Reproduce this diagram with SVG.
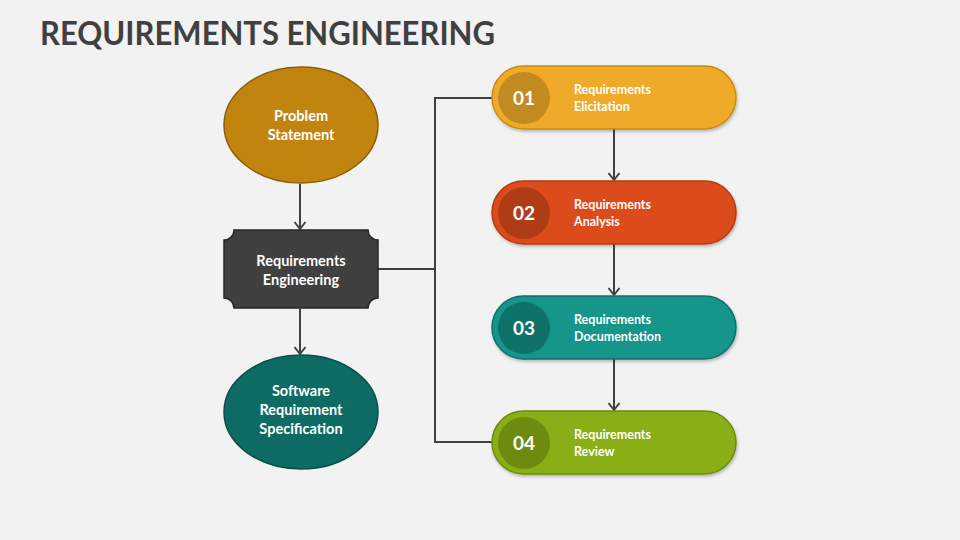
<svg xmlns="http://www.w3.org/2000/svg" width="960" height="540" viewBox="0 0 960 540">
<defs>
<marker id="arr" markerWidth="14" markerHeight="14" refX="11" refY="7" orient="auto" markerUnits="userSpaceOnUse" viewBox="0 0 14 14">
<path d="M4,1.5 L11,7 L4,12.5" fill="none" stroke="#404040" stroke-width="2"/>
</marker>
<filter id="sh" x="-10%" y="-20%" width="120%" height="150%">
<feDropShadow dx="1" dy="2" stdDeviation="1.5" flood-color="#000" flood-opacity="0.25"/>
</filter>
<style>
.t{font-family:Lato,"Open Sans","Liberation Sans",sans-serif;fill:#fff;font-weight:bold;}
.c{font-size:14.5px;text-anchor:middle;}
.n{font-size:19px;text-anchor:middle;}
.l{font-size:12.5px;}
.ln{fill:none;stroke:#404040;stroke-width:2;}
</style>
</defs>
<rect width="960" height="540" fill="#F2F2F2"/>
<text x="40" y="45" font-family="Lato,'Open Sans','Liberation Sans',sans-serif" font-weight="bold" font-size="33" fill="#404040" textLength="455" lengthAdjust="spacingAndGlyphs">REQUIREMENTS ENGINEERING</text>

<g id="connectors">
<line class="ln" x1="300" y1="184" x2="300" y2="229" marker-end="url(#arr)"/>
<line class="ln" x1="300" y1="309" x2="300" y2="354" marker-end="url(#arr)"/>
<polyline class="ln" points="378,269 435,269"/>
<polyline class="ln" points="492,98 435,98 435,442 492,442"/>
<line class="ln" x1="614" y1="129" x2="614" y2="180" marker-end="url(#arr)"/>
<line class="ln" x1="614" y1="244" x2="614" y2="295" marker-end="url(#arr)"/>
<line class="ln" x1="614" y1="359" x2="614" y2="410" marker-end="url(#arr)"/>
</g>

<g id="problem">
<ellipse cx="301" cy="125" rx="77" ry="58" fill="#C0840F" stroke="#8A5E08" stroke-width="1.5"/>
<text class="t c" x="301" y="121">Problem</text>
<text class="t c" x="301" y="140">Statement</text>
</g>

<g id="re">
<path d="M234,230 H368 A10,10 0 0 0 378,240 V298 A10,10 0 0 0 368,308 H234 A10,10 0 0 0 224,298 V240 A10,10 0 0 0 234,230 Z" fill="#404040" stroke="#262626" stroke-width="1.5"/>
<text class="t c" x="301" y="266">Requirements</text>
<text class="t c" x="301" y="285">Engineering</text>
</g>

<g id="srs">
<ellipse cx="301" cy="412" rx="77" ry="57" fill="#0E6B63" stroke="#0A4F49" stroke-width="1.5"/>
<text class="t c" x="301" y="396">Software</text>
<text class="t c" x="301" y="415">Requirement</text>
<text class="t c" x="301" y="434">Specification</text>
</g>

<g id="step1">
<rect x="492" y="66" width="244" height="63" rx="31.5" fill="#EFAA2A" stroke="#C98A14" stroke-width="1.5" filter="url(#sh)"/>
<circle cx="524" cy="98" r="26" fill="#C28A20"/>
<text class="t n" x="524" y="105">01</text>
<text class="t l" x="574" y="94">Requirements</text>
<text class="t l" x="574" y="111">Elicitation</text>
</g>

<g id="step2">
<rect x="492" y="181" width="244" height="63" rx="31.5" fill="#DC4B1A" stroke="#B03C15" stroke-width="1.5" filter="url(#sh)"/>
<circle cx="524" cy="213" r="26" fill="#B03C15"/>
<text class="t n" x="524" y="220">02</text>
<text class="t l" x="574" y="209">Requirements</text>
<text class="t l" x="574" y="226">Analysis</text>
</g>

<g id="step3">
<rect x="492" y="296" width="244" height="63" rx="31.5" fill="#12958A" stroke="#0F7268" stroke-width="1.5" filter="url(#sh)"/>
<circle cx="524" cy="328" r="26" fill="#0F7268"/>
<text class="t n" x="524" y="335">03</text>
<text class="t l" x="574" y="324">Requirements</text>
<text class="t l" x="574" y="341">Documentation</text>
</g>

<g id="step4">
<rect x="492" y="411" width="244" height="63" rx="31.5" fill="#8AAE14" stroke="#6D8B10" stroke-width="1.5" filter="url(#sh)"/>
<circle cx="524" cy="443" r="26" fill="#6D8B10"/>
<text class="t n" x="524" y="450">04</text>
<text class="t l" x="574" y="439">Requirements</text>
<text class="t l" x="574" y="456">Review</text>
</g>
</svg>
